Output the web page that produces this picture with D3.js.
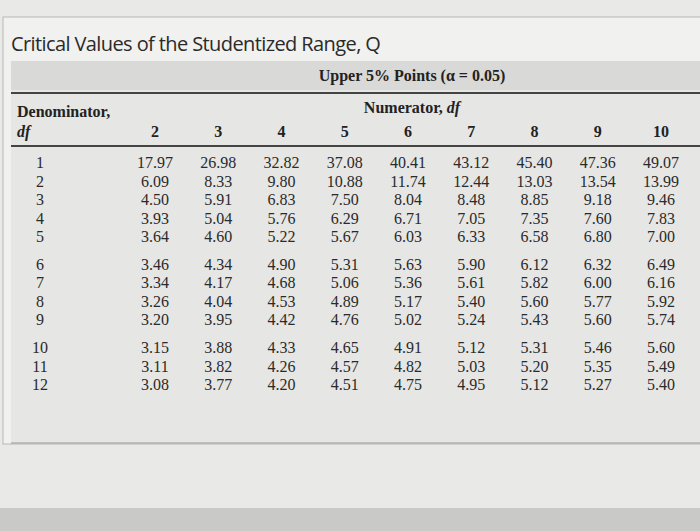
<!DOCTYPE html>
<html><head><meta charset="utf-8">
<script src="https://cdn.jsdelivr.net/npm/d3@7"></script>
<style>body{margin:0;background:#e9e9e7;}svg{display:block}</style>
</head><body>
<script>
const numeratorDf = [2,3,4,5,6,7,8,9,10];
const denominatorDf = [1,2,3,4,5,6,7,8,9,10,11,12];
const rowGroup = [0,0,0,0,0,1,1,1,1,2,2,2];
const q2 = [17.97,6.09,4.50,3.93,3.64,3.46,3.34,3.26,3.20,3.15,3.11,3.08];
const q3 = [26.98,8.33,5.91,5.04,4.60,4.34,4.17,4.04,3.95,3.88,3.82,3.77];
const q4 = [32.82,9.80,6.83,5.76,5.22,4.90,4.68,4.53,4.42,4.33,4.26,4.20];
const q5 = [37.08,10.88,7.50,6.29,5.67,5.31,5.06,4.89,4.76,4.65,4.57,4.51];
const q6 = [40.41,11.74,8.04,6.71,6.03,5.63,5.36,5.17,5.02,4.91,4.82,4.75];
const q7 = [43.12,12.44,8.48,7.05,6.33,5.90,5.61,5.40,5.24,5.12,5.03,4.95];
const q8 = [45.40,13.03,8.85,7.35,6.58,6.12,5.82,5.60,5.43,5.31,5.20,5.12];
const q9 = [47.36,13.54,9.18,7.60,6.80,6.32,6.00,5.77,5.60,5.46,5.35,5.27];
const q10 = [49.07,13.99,9.46,7.83,7.00,6.49,6.16,5.92,5.74,5.60,5.49,5.40];
const series = [q2,q3,q4,q5,q6,q7,q8,q9,q10];

const W=700,H=531;
const svg=d3.select("body").append("svg").attr("width",W).attr("height",H);
svg.append("rect").attr("x",3).attr("y",17).attr("width",700).attr("height",427)
  .attr("fill","#f1f1ef").attr("stroke","#b8b8b8");
svg.append("rect").attr("x",11).attr("y",90).attr("width",689).attr("height",353).attr("fill","#e6e6e4");
svg.append("rect").attr("x",11).attr("y",61).attr("width",689).attr("height",29).attr("fill","#d9d9d7");
svg.append("text").attr("x",11).attr("y",51).text("Critical Values of the Studentized Range, Q")
  .attr("font-family","Open Sans, DejaVu Sans, sans-serif").attr("font-size",20).attr("fill","#2a2a2a")
  .attr("letter-spacing","-0.6");
const serif="Liberation Serif, Times New Roman, serif";
svg.append("text").attr("x",412).attr("y",81).attr("text-anchor","middle").text("Upper 5% Points (α = 0.05)")
  .attr("font-family",serif).attr("font-size",16).attr("font-weight","bold").attr("fill","#222");
svg.append("line").attr("x1",11).attr("x2",700).attr("y1",93).attr("y2",93).attr("stroke","#444").attr("stroke-width",2);
svg.append("line").attr("x1",11).attr("x2",700).attr("y1",146).attr("y2",146).attr("stroke","#444").attr("stroke-width",2);
svg.append("line").attr("x1",11).attr("x2",700).attr("y1",443).attr("y2",443).attr("stroke","#999").attr("stroke-width",1);
svg.append("text").attr("x",17).attr("y",117).text("Denominator,").attr("font-family",serif).attr("font-size",16).attr("font-weight","bold").attr("fill","#222");
svg.append("text").attr("x",17).attr("y",137).text("df").attr("font-family",serif).attr("font-size",16).attr("font-style","italic").attr("font-weight","bold").attr("fill","#222");
const nt=svg.append("text").attr("x",412).attr("y",113).attr("text-anchor","middle").attr("font-family",serif).attr("font-size",16).attr("font-weight","bold").attr("fill","#222");
nt.append("tspan").text("Numerator, ");nt.append("tspan").attr("font-style","italic").text("df");

const x=d3.scalePoint().domain(numeratorDf).range([155,661]);
const slot=(i)=>i+0.5*rowGroup[i];
const y=d3.scaleLinear().domain([0,12]).range([163,385]);
const colHdr=svg.append("g").attr("font-family",serif).attr("font-size",16).attr("font-weight","bold").attr("fill","#222");
colHdr.selectAll("text").data(numeratorDf).join("text").attr("x",d=>x(d)).attr("y",137).attr("text-anchor","middle").text(d=>d);
const g=svg.append("g").attr("font-family",serif).attr("font-size",16).attr("fill","#2a2a2a");
g.selectAll("text.r").data(denominatorDf).join("text").attr("class","r").attr("x",40).attr("y",(d,i)=>y(slot(i))+5).attr("text-anchor","middle").text(d=>d);
series.forEach((s,j)=>{
  g.selectAll("text.c"+j).data(s).join("text").attr("class","c"+j).attr("x",x(numeratorDf[j])).attr("y",(d,i)=>y(slot(i))+5)
   .attr("text-anchor","middle").text(d=>d.toFixed(2));
});
svg.append("rect").attr("x",0).attr("y",508).attr("width",W).attr("height",23).attr("fill","#c9c9c7");
</script></body></html>
